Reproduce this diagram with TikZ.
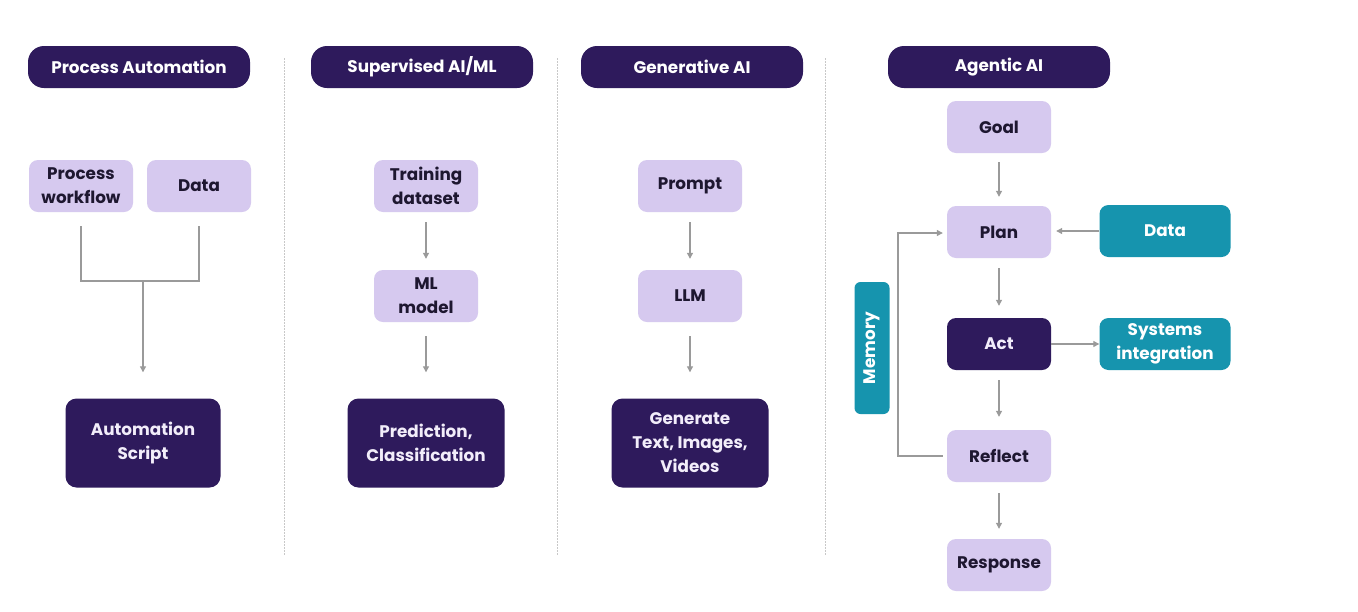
\documentclass[tikz,border=0pt]{standalone}
\usepackage{fontspec}
\setmainfont{Poppins}
\usetikzlibrary{arrows.meta}
\definecolor{dpurple}{HTML}{2E1A5C}
\definecolor{lav}{HTML}{D6C9EF}
\definecolor{teal}{HTML}{1694AE}
\definecolor{arr}{HTML}{9A9A9A}
\definecolor{dtext}{HTML}{1E1730}
\definecolor{ltext}{HTML}{F2EDFA}
\definecolor{sep}{HTML}{C8C8C8}
\tikzset{
  base/.style={inner sep=0pt, align=center, font=\fontsize{16.8}{24}\selectfont\bfseries},
  pill/.style={base, fill=dpurple, text=white, rounded corners=16pt, minimum width=222, minimum height=42},
  lbox/.style={base, fill=lav, text=dtext, rounded corners=9pt, minimum width=104, minimum height=52},
  dbox/.style={base, fill=dpurple, text=ltext, rounded corners=11pt},
  tbox/.style={base, fill=teal, text=white, rounded corners=9pt},
  conn/.style={draw=arr, line width=1.1pt},
  arrow/.style={conn, -{Triangle[width=6pt,length=6pt]}},
  seprule/.style={draw=sep, line width=0.8pt, dash pattern=on 1.5pt off 1.5pt}
}
\begin{document}
\begin{tikzpicture}[x=1pt,y=-1pt]
\useasboundingbox (0,0) rectangle (1358,611);
\fill[white] (0,0) rectangle (1358,611);
% separators
\coordinate (s1a) at (284,58); \coordinate (s1b) at (284,556);
\coordinate (s2a) at (557,58); \coordinate (s2b) at (557,556);
\coordinate (s3a) at (825,58); \coordinate (s3b) at (825,556);
\draw[seprule] (s1a) -- (s1b);
\draw[seprule] (s2a) -- (s2b);
\draw[seprule] (s3a) -- (s3b);
% headers
\node[pill] (h1) at (139,67) {Process Automation};
\node[pill] (h2) at (422,67) {Supervised AI/ML};
\node[pill] (h3) at (692,67) {Generative AI};
\node[pill] (h4) at (999,67) {Agentic AI};
% column 1
\node[lbox] (pw) at (81,186) {Process\\workflow};
\node[lbox] (d1) at (199,186) {Data};
\node[dbox, minimum width=155, minimum height=89] (as) at (143,443) {Automation\\Script};
\coordinate (j1) at (81,281);
\coordinate (j2) at (199,281);
\coordinate (jm) at (143,281);
\draw[conn] ([yshift=-14pt]pw.south) -- (j1) -- (j2) -- ([yshift=-14pt]d1.south);
\draw[arrow] (jm) -- ([yshift=26pt]as.north);
% column 2
\node[lbox] (td) at (426,186) {Training\\dataset};
\node[lbox] (ml) at (426,296) {ML\\model};
\node[dbox, minimum width=157, minimum height=89] (pc) at (426,443) {Prediction,\\Classification};
\draw[arrow] ([yshift=-10pt]td.south) -- ([yshift=11pt]ml.north);
\draw[arrow] ([yshift=-14pt]ml.south) -- ([yshift=26pt]pc.north);
% column 3
\node[lbox] (pr) at (690,186) {Prompt};
\node[lbox] (llm) at (690,296) {LLM};
\node[dbox, minimum width=157, minimum height=89] (gen) at (690,443) {Generate\\Text, Images,\\Videos};
\draw[arrow] ([yshift=-10pt]pr.south) -- ([yshift=11pt]llm.north);
\draw[arrow] ([yshift=-14pt]llm.south) -- ([yshift=26pt]gen.north);
% column 4
\node[lbox] (goal) at (999,127) {Goal};
\node[lbox] (plan) at (999,232) {Plan};
\node[dbox, rounded corners=9pt, minimum width=104, minimum height=52] (act) at (999,344) {Act};
\node[lbox] (refl) at (999,456) {Reflect};
\node[lbox] (resp) at (999,565) {Response};
\node[tbox, minimum width=131, minimum height=52] (d4) at (1165,231) {Data};
\node[tbox, minimum width=131, minimum height=52] (si) at (1165,344) {Systems\\integration};
\node[tbox, minimum width=35, minimum height=132, rounded corners=6pt] (mem) at (872,348) {\rotatebox{90}{Memory}};
\draw[arrow] ([yshift=-9pt]goal.south) -- ([yshift=9pt]plan.north);
\draw[arrow] ([yshift=-10pt]plan.south) -- ([yshift=12pt]act.north);
\draw[arrow] ([yshift=-10pt]act.south) -- ([yshift=13pt]refl.north);
\draw[arrow] ([yshift=-11pt]refl.south) -- ([yshift=10pt]resp.north);
\draw[arrow] (d4.west) -- ([xshift=5pt]plan.east |- d4.west);
\draw[arrow] (act.east) -- (si.west);
\coordinate (l1) at (898,456);
\coordinate (l2) at (898,233);
\draw[arrow] ([xshift=-4pt]refl.west) -- (l1) -- (l2) -- ([xshift=-4pt]plan.west |- l2);
\end{tikzpicture}
\end{document}
